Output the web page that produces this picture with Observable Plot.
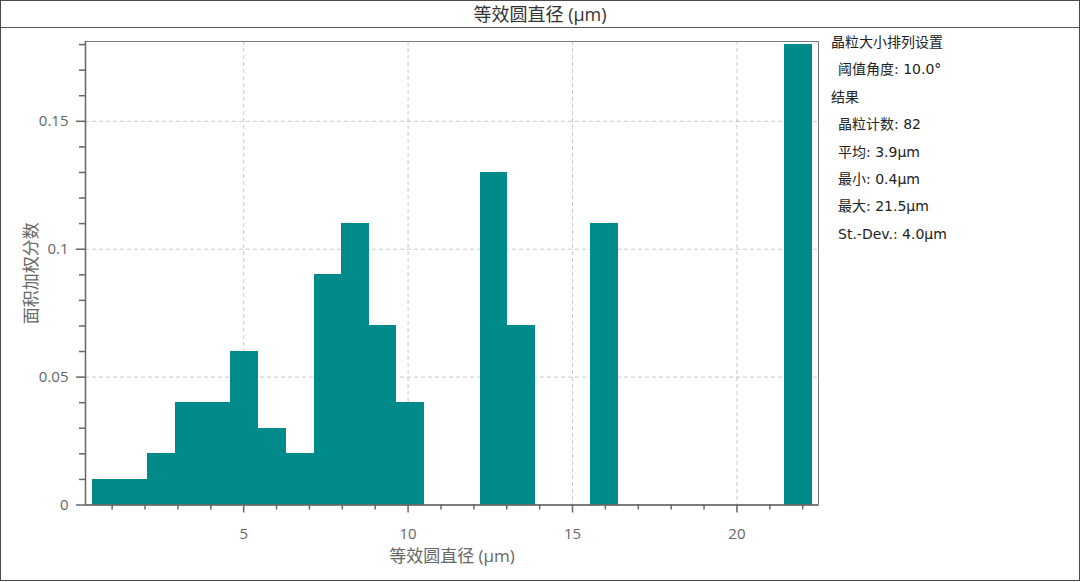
<!DOCTYPE html>
<html>
<head>
<meta charset="utf-8">
<script src="https://cdn.jsdelivr.net/npm/d3@7"></script>
<script src="https://cdn.jsdelivr.net/npm/@observablehq/plot@0.6"></script>
<style>
  body { margin: 0; background: #fff; }
  #wrap { position: relative; width: 1080px; height: 582px; background: #fff; overflow: hidden; }
  #border { position: absolute; left: 0; top: 0; width: 1078px; height: 579px; border: 1px solid #4a4a4a; pointer-events: none; }
  #title { position: absolute; left: 0; top: 0; width: 1080px; height: 27px; line-height: 29px; text-align: center;
           font: 18px "Open Sans", "Noto Sans CJK SC", sans-serif; color: #333; border-bottom: 1px solid #555; }
  #chart { position: absolute; left: 0; top: 0; }
  #legend { position: absolute; left: 831px; top: 29px; font: 14px "DejaVu Sans", "Noto Sans CJK SC", sans-serif; color: #222; line-height: 27.4px; white-space: pre; }
  #legend .ind { padding-left: 7px; }
</style>
</head>
<body>
<div id="wrap">
  <div id="chart"></div>
  <div id="title"></div>
  <div id="legend"></div>
  <div id="border"></div>
</div>
<script>
// ---- data ----
const chartTitle = "等效圆直径 (µm)";
const xLabel = "等效圆直径 (µm)";
const yLabel = "面积加权分数";

// histogram bins (µm) and area-weighted fraction
const binLow  = [0.40, 1.24, 2.08, 2.93, 3.77, 4.61, 5.45, 6.29, 7.14, 7.98, 8.82, 9.66, 12.19, 13.03, 15.56, 21.45];
const binHigh = [1.24, 2.08, 2.93, 3.77, 4.61, 5.45, 6.29, 7.14, 7.98, 8.82, 9.66, 10.50, 13.03, 13.87, 16.40, 22.29];
const fraction = [0.01, 0.01, 0.02, 0.04, 0.04, 0.06, 0.03, 0.02, 0.09, 0.11, 0.07, 0.04, 0.13, 0.07, 0.11, 0.18];

const xMajorTicks = [5, 10, 15, 20];
const xMinorTicks = [1, 2, 3, 4, 6, 7, 8, 9, 11, 12, 13, 14, 16, 17, 18, 19, 21, 22];
const yMajorTicks = [0, 0.05, 0.1, 0.15];
const yTickLabels = ["0", "0.05", "0.1", "0.15"];
const yMinorTicks = [0.01, 0.02, 0.03, 0.04, 0.06, 0.07, 0.08, 0.09, 0.11, 0.12, 0.13, 0.14, 0.16, 0.17, 0.18];

const legendLines = ["晶粒大小排列设置", "阈值角度: 10.0°", "结果", "晶粒计数: 82", "平均: 3.9µm", "最小: 0.4µm", "最大: 21.5µm", "St.-Dev.: 4.0µm"];
const legendIndent = [false, true, false, true, true, true, true, true];

const xDomain = [0.19, 22.48];
const yDomain = [0, 0.1812];

// ---- build ----
const bins = binLow.map((lo, i) => ({lo, hi: binHigh[i], v: fraction[i]}));

const tickColor = "#666";
const gridStyle = {stroke: "#9a9a9a", strokeOpacity: 0.55, strokeDasharray: "4,3", strokeWidth: 1};

const chart = Plot.plot({
  width: 1080,
  height: 582,
  marginLeft: 85,
  marginRight: 262,
  marginTop: 41,
  marginBottom: 77.5,
  style: {fontFamily: '"Open Sans", "Noto Sans CJK SC", sans-serif', fontSize: "15px", color: "#666", background: "transparent"},
  x: {domain: xDomain},
  y: {domain: yDomain},
  marks: [
    Plot.gridX({ticks: xMajorTicks, ...gridStyle}),
    Plot.gridY({ticks: yMajorTicks.slice(1), ...gridStyle}),
    Plot.rectY(bins, {x1: "lo", x2: "hi", y: "v", fill: "#008a8a", shapeRendering: "crispEdges"}),
    Plot.frame({stroke: "#7a7a7a", strokeWidth: 1}),
    Plot.ruleY([0], {stroke: "#666", strokeWidth: 1.5}),
    Plot.ruleX([xDomain[0]], {stroke: "#666", strokeWidth: 1.5}),
    Plot.axisX({ticks: xMajorTicks, tickSize: 8, tickPadding: 15, stroke: tickColor, strokeWidth: 1.5,
                label: xLabel, labelAnchor: "center", labelOffset: 57, labelArrow: "none", fontSize: 15}),
    Plot.axisX({ticks: xMinorTicks, tickSize: 5, tickFormat: () => "", stroke: tickColor, strokeWidth: 1.5, label: null}),
    Plot.axisY({ticks: yMajorTicks, tickSize: 9, tickPadding: 8, stroke: tickColor, strokeWidth: 1.5,
                tickFormat: d => yTickLabels[yMajorTicks.indexOf(d)],
                label: yLabel, labelAnchor: "center", labelOffset: 61, labelArrow: "none"}),
    Plot.axisY({ticks: yMinorTicks, tickSize: 6, tickFormat: () => "", stroke: tickColor, strokeWidth: 1.5, label: null})
  ]
});
document.getElementById("chart").appendChild(chart);

// label font sizes
chart.querySelectorAll("g[aria-label='x-axis label'] text, g[aria-label='y-axis label'] text").forEach(t => {
  t.setAttribute("font-size", "17");
});

document.getElementById("title").textContent = chartTitle;
const leg = document.getElementById("legend");
legendLines.forEach((s, i) => {
  const d = document.createElement("div");
  d.textContent = s;
  if (legendIndent[i]) d.className = "ind";
  leg.appendChild(d);
});
</script>
</body>
</html>
